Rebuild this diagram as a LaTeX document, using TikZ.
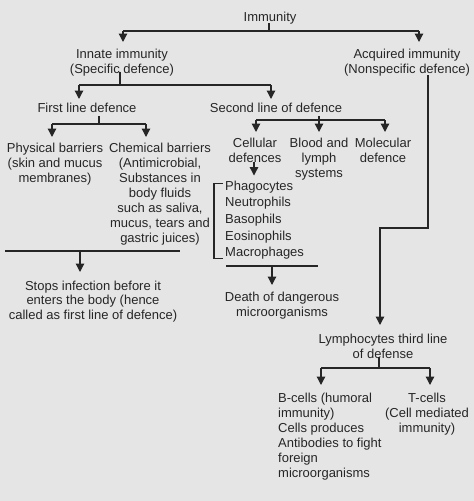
\documentclass[tikz,border=0pt]{standalone}
\usepackage{fontspec}
\setmainfont{Liberation Sans}
\usetikzlibrary{arrows.meta}
\definecolor{bgc}{HTML}{E5E5E5}
\definecolor{ink}{HTML}{262626}
\begin{document}
\begin{tikzpicture}[x=1pt,y=-1pt,
  txt/.style={anchor=north,inner sep=0pt,align=center,text=ink,font=\fontsize{13}{15}\selectfont},
  ln/.style={draw=ink,line width=1.25pt},
  arr/.style={ln,-{Triangle[width=8.5pt,length=8.5pt]}}]
\fill[bgc] (0,0) rectangle (474,501);
\useasboundingbox (0,0) rectangle (474,501);
% nodes
\node[txt] (imm) at (270,10.5) {\strut Immunity};
\node[txt] (innate) at (122,47.5) {\strut Innate immunity\\(Specific defence)};
\node[txt] (acq) at (407,47.5) {\strut Acquired immunity\\(Nonspecific defence)};
\node[txt] (first) at (87,101.5) {\strut First line defence};
\node[txt] (second) at (276,101.5) {\strut Second line of defence};
\node[txt] (phys) at (55,141.5) {\strut Physical barriers\\(skin and mucus\\membranes)};
\node[txt] (chem) at (160,141.5) {\strut Chemical barriers\\(Antimicrobial,\\Substances in\\body fluids\\such as saliva,\\mucus, tears and\\gastric juices)};
\node[txt] (cell) at (255,136.5) {\strut Cellular\\defences};
\node[txt] (blood) at (319,136.5) {\strut Blood and\\lymph\\systems};
\node[txt] (mol) at (383,136.5) {\strut Molecular\\defence};
\node[txt,anchor=north west,align=left,font=\fontsize{13}{16.7}\selectfont] (list) at (225,178.3) {\strut Phagocytes\\Neutrophils\\Basophils\\Eosinophils\\Macrophages};
\node[txt] (death) at (282,290.5) {\strut Death of dangerous\\microorganisms};
\node[txt,font=\fontsize{13}{14.5}\selectfont] (stops) at (93,279.9) {\strut Stops infection before it\\enters the body (hence\\called as first line of defence)};
\node[txt] (lymph) at (383,332.5) {\strut Lymphocytes third line\\of defense};
\node[txt,anchor=north west,align=left] (bcell) at (278,391.5) {\strut B-cells (humoral\\immunity)\\Cells produces\\Antibodies to fight\\foreign\\microorganisms};
\node[txt] (tcell) at (427,391.5) {\strut T-cells\\(Cell mediated\\immunity)};
% junction coordinates
\coordinate (j1) at (269,31);
\coordinate (j1l) at (123,31);
\coordinate (j1r) at (419,31);
\coordinate (j2) at (120,85);
\coordinate (j2l) at (79,85);
\coordinate (j2r) at (271,85);
\coordinate (j3) at (99,124);
\coordinate (j3l) at (52,124);
\coordinate (j3r) at (146,124);
\coordinate (j4) at (319,120);
\coordinate (j4l) at (256,120);
\coordinate (j4r) at (385,120);
\coordinate (b1) at (5,251);
\coordinate (b2) at (180,251);
\coordinate (b3) at (80,251);
\coordinate (c1) at (226,266);
\coordinate (c2) at (318,266);
\coordinate (c3) at (272,266);
\coordinate (a1) at (428,228);
\coordinate (a2) at (380,228);
\coordinate (j5) at (379,368);
\coordinate (j5l) at (321,368);
\coordinate (j5r) at (430,368);
% connectors
\draw[ln] (imm.south) ++(-1,-3) -- (j1);
\draw[ln] (j1l) -- (j1r);
\draw[arr] (j1l) -- (j1l |- 0,42);
\draw[arr] (j1r) -- (j1r |- 0,42);
\draw[ln] (innate.south) ++(-2,-4.5) -- (j2);
\draw[ln] (j2l) -- (j2r);
\draw[arr] (j2l) -- (j2l |- 0,99);
\draw[arr] (j2r) -- (j2r |- 0,99);
\draw[ln] (first.south) ++(12,-1) -- (j3);
\draw[ln] (j3l) -- (j3r);
\draw[arr] (j3l) -- (j3l |- 0,137);
\draw[arr] (j3r) -- (j3r |- 0,137);
\draw[ln] (second.south) ++(43,-1) -- (j4);
\draw[ln] (j4l) -- (j4r);
\draw[arr] (j4l) -- (j4l |- 0,132);
\draw[arr] (j4) -- (j4 |- 0,132);
\draw[arr] (j4r) -- (j4r |- 0,132);
\draw[arr] (cell.south) ++(-1,-1) -- ++(0,14);
\draw[ln] ([xshift=-2pt,yshift=-5.5pt]list.north west) -- ++(-9,0) |- ([xshift=-2pt,yshift=1.5pt]list.south west);
\draw[ln] (b1) -- (b2);
\draw[arr] (b3) -- (b3 |- 0,272);
\draw[ln] (c1) -- (c2);
\draw[arr] (c3) -- (c3 |- 0,285);
\draw[arr] (acq.south) ++(21,-1) -- (a1) -- (a2) -- (a2 |- 0,325);
\draw[ln] (lymph.south) ++(-4,-2) -- (j5);
\draw[ln] (j5l) -- (j5r);
\draw[arr] (j5l) -- (j5l |- 0,385);
\draw[arr] (j5r) -- (j5r |- 0,385);
\end{tikzpicture}
\end{document}
